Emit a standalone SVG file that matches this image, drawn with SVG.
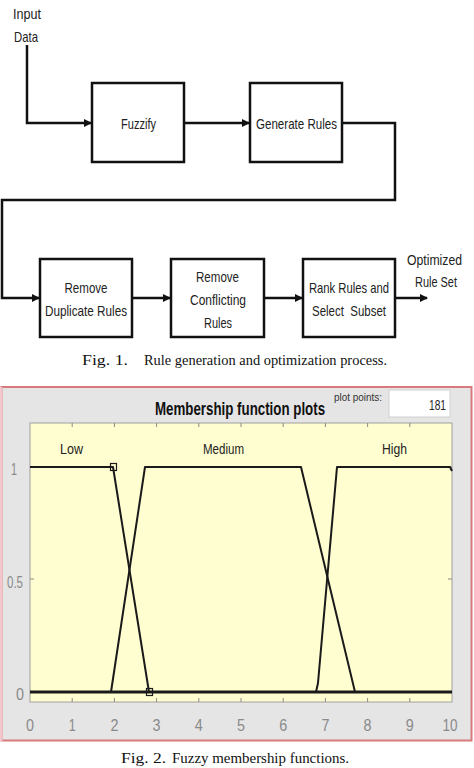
<svg xmlns="http://www.w3.org/2000/svg" width="474" height="768" viewBox="0 0 474 768">
<style>
.box{fill:#fff;stroke:#111;stroke-width:2.5}
.lbl{font-family:"Liberation Sans",Arial,sans-serif;font-size:15px;fill:#222;text-anchor:middle}
.pre{white-space:pre}
.wire{fill:none;stroke:#111;stroke-width:2.5}
.cap{font-family:"Liberation Serif","Times New Roman",serif;font-size:14.5px;fill:#111}
.ax{font-family:"Liberation Sans",Arial,sans-serif;font-size:17px;fill:#8a8a8a;text-anchor:middle}
.cat{font-family:"Liberation Sans",Arial,sans-serif;font-size:15px;fill:#222}
.mf{fill:none;stroke:#1a1a1a;stroke-width:2;stroke-linejoin:round}
.tick{stroke:#8a8a8a;stroke-width:1}
</style>
<defs>
<marker id="arr" markerWidth="8" markerHeight="8" refX="7" refY="4" orient="auto" markerUnits="userSpaceOnUse">
<path d="M0,0 L8,4 L0,8 Z" fill="#111"/>
</marker>
</defs>
<rect width="474" height="768" fill="#fff"/>

<g id="connectors">
<path class="wire" d="M27,45 V123 H91" marker-end="url(#arr)"/>
<path class="wire" d="M184,123 H249" marker-end="url(#arr)"/>
<path class="wire" d="M342,123 H395 V200 H2 V298 H39" marker-end="url(#arr)"/>
<path class="wire" d="M132,298 H170" marker-end="url(#arr)"/>
<path class="wire" d="M264,298 H302" marker-end="url(#arr)"/>
<path class="wire" d="M395,298 H427" marker-end="url(#arr)"/>
</g>

<g id="input">
<text class="lbl" x="13" y="18.5" style="text-anchor:start" textLength="28" lengthAdjust="spacingAndGlyphs">Input</text>
<text class="lbl" x="14" y="41.5" style="text-anchor:start" textLength="24" lengthAdjust="spacingAndGlyphs">Data</text>
</g>
<g id="fuzzify">
<rect class="box" x="92" y="83" width="92" height="79"/>
<text class="lbl" x="138.5" y="128.5" textLength="35" lengthAdjust="spacingAndGlyphs">Fuzzify</text>
</g>
<g id="generate">
<rect class="box" x="250" y="83" width="92" height="79"/>
<text class="lbl" x="296.5" y="128.5" textLength="81" lengthAdjust="spacingAndGlyphs">Generate Rules</text>
</g>
<g id="duplicate">
<rect class="box" x="40" y="259" width="92" height="78"/>
<text class="lbl" x="86" y="292.5" textLength="43" lengthAdjust="spacingAndGlyphs">Remove</text>
<text class="lbl" x="86" y="315.5" textLength="82" lengthAdjust="spacingAndGlyphs">Duplicate Rules</text>
</g>
<g id="conflicting">
<rect class="box" x="171" y="259" width="93" height="78"/>
<text class="lbl" x="217.5" y="281.5" textLength="43" lengthAdjust="spacingAndGlyphs">Remove</text>
<text class="lbl" x="218" y="304.5" textLength="56" lengthAdjust="spacingAndGlyphs">Conflicting</text>
<text class="lbl" x="218" y="327.5" textLength="28" lengthAdjust="spacingAndGlyphs">Rules</text>
</g>
<g id="rank">
<rect class="box" x="303" y="259" width="92" height="78"/>
<text class="lbl" x="349" y="292.5" textLength="80" lengthAdjust="spacingAndGlyphs">Rank Rules and</text>
<text class="lbl pre" x="349" y="315.5" textLength="74" lengthAdjust="spacingAndGlyphs">Select  Subset</text>
</g>
<g id="output">
<text class="lbl" x="434.5" y="264.5" textLength="55" lengthAdjust="spacingAndGlyphs">Optimized</text>
<text class="lbl" x="436" y="286.5" textLength="42" lengthAdjust="spacingAndGlyphs">Rule Set</text>
</g>

<g id="caption1">
<text class="cap" x="82" y="365" textLength="46" lengthAdjust="spacingAndGlyphs">Fig. 1.</text>
<text class="cap" x="144" y="365" textLength="243" lengthAdjust="spacingAndGlyphs">Rule generation and optimization process.</text>
</g>

<g id="plot">
<rect x="1.5" y="387" width="470" height="353.5" fill="#e5e5e5" stroke="#d77a7e" stroke-width="2"/>
<rect x="0" y="387" width="2.5" height="354" fill="#f2c6cc"/>
<text transform="translate(240,414.5) scale(0.7,1)" x="0" y="0" font-family="Liberation Sans,Arial,sans-serif" font-size="17.5" font-weight="bold" fill="#111" text-anchor="middle" textLength="243" lengthAdjust="spacingAndGlyphs">Membership function plots</text>
<text transform="translate(334,401) scale(0.8,1)" x="0" y="0" font-family="Liberation Sans,Arial,sans-serif" font-size="10" fill="#333" textLength="60" lengthAdjust="spacingAndGlyphs">plot points:</text>
<rect x="389" y="390" width="61" height="27" fill="#fff" stroke="#d0d0d0" stroke-width="1"/>
<text x="446" y="410" font-family="Liberation Sans,Arial,sans-serif" font-size="15" fill="#222" text-anchor="end" textLength="17" lengthAdjust="spacingAndGlyphs">181</text>

<rect x="30" y="423" width="422" height="279" fill="#fffed0" stroke="#a0a0a0" stroke-width="1"/>
<g class="tick">
<path d="M72.2,423v4M114.4,423v4M156.6,423v4M198.8,423v4M241,423v4M283.2,423v4M325.4,423v4M367.6,423v4M409.8,423v4"/>
<path d="M72.2,702v-4M114.4,702v-4M156.6,702v-4M198.8,702v-4M241,702v-4M283.2,702v-4M325.4,702v-4M367.6,702v-4M409.8,702v-4"/>
<path d="M30,579h4M452,579h-4M30,467h4M452,467h-4"/>
</g>

<g id="labels-x">
<text class="ax" x="30" y="731" textLength="8" lengthAdjust="spacingAndGlyphs">0</text>
<text class="ax" x="72.2" y="731" textLength="7" lengthAdjust="spacingAndGlyphs">1</text>
<text class="ax" x="114.4" y="731" textLength="8" lengthAdjust="spacingAndGlyphs">2</text>
<text class="ax" x="156.6" y="731" textLength="8" lengthAdjust="spacingAndGlyphs">3</text>
<text class="ax" x="198.8" y="731" textLength="8" lengthAdjust="spacingAndGlyphs">4</text>
<text class="ax" x="241" y="731" textLength="8" lengthAdjust="spacingAndGlyphs">5</text>
<text class="ax" x="283.2" y="731" textLength="8" lengthAdjust="spacingAndGlyphs">6</text>
<text class="ax" x="325.4" y="731" textLength="8" lengthAdjust="spacingAndGlyphs">7</text>
<text class="ax" x="367.6" y="731" textLength="8" lengthAdjust="spacingAndGlyphs">8</text>
<text class="ax" x="409.8" y="731" textLength="8" lengthAdjust="spacingAndGlyphs">9</text>
<text class="ax" x="450" y="731" textLength="15" lengthAdjust="spacingAndGlyphs">10</text>
</g>
<g id="labels-y">
<text class="ax" x="14" y="475" textLength="6" lengthAdjust="spacingAndGlyphs">1</text>
<text class="ax" x="15" y="588" textLength="16" lengthAdjust="spacingAndGlyphs">0.5</text>
<text class="ax" x="20" y="700" textLength="8" lengthAdjust="spacingAndGlyphs">0</text>
</g>
<g id="categories">
<text class="cat" x="60" y="454" textLength="23" lengthAdjust="spacingAndGlyphs">Low</text>
<text class="cat" x="203" y="454" textLength="41" lengthAdjust="spacingAndGlyphs">Medium</text>
<text class="cat" x="382" y="454" textLength="25" lengthAdjust="spacingAndGlyphs">High</text>
</g>

<g id="mf-low"><path class="mf" d="M30,467 H113 L149,692"/></g>
<g id="mf-medium"><path class="mf" d="M111,692 L145,467 H301 L355,692"/></g>
<g id="mf-high"><path class="mf" d="M316,692 L318,683 L337,467 H450 L452,471"/></g>
<line x1="30" y1="692" x2="452" y2="692" stroke="#1a1a1a" stroke-width="3"/>
<rect x="110.5" y="463.5" width="6" height="7" fill="none" stroke="#1a1a1a" stroke-width="1.2"/>
<rect x="146.5" y="688.5" width="6" height="7" fill="none" stroke="#1a1a1a" stroke-width="1.2"/>
</g>

<g id="caption2">
<text class="cap" x="121" y="763" textLength="45" lengthAdjust="spacingAndGlyphs">Fig. 2.</text>
<text class="cap" x="172" y="763" textLength="177" lengthAdjust="spacingAndGlyphs">Fuzzy membership functions.</text>
</g>
</svg>
